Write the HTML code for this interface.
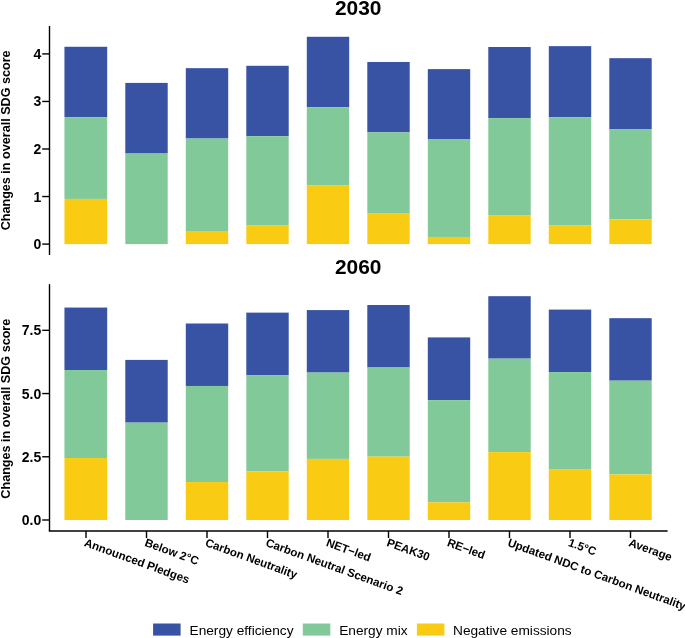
<!DOCTYPE html><html><head><meta charset="utf-8"><title>SDG chart</title><style>html,body{margin:0;padding:0;background:#fff}svg{display:block}text{font-family:"Liberation Sans", sans-serif;fill:#000}.b{font-weight:bold}</style></head><body>
<svg width="685" height="638" viewBox="0 0 685 638">
<rect width="685" height="638" fill="#fff"/>
<rect x="64.45" y="46.77" width="42.75" height="70.37" fill="#3852A4"/>
<rect x="64.45" y="117.14" width="42.75" height="81.79" fill="#82C99A"/>
<rect x="64.45" y="198.93" width="42.75" height="45.17" fill="#F9CC13"/>
<rect x="125.30" y="82.91" width="42.40" height="70.61" fill="#3852A4"/>
<rect x="125.30" y="153.52" width="42.40" height="90.58" fill="#82C99A"/>
<rect x="185.80" y="68.16" width="42.40" height="70.37" fill="#3852A4"/>
<rect x="185.80" y="138.54" width="42.40" height="92.48" fill="#82C99A"/>
<rect x="185.80" y="231.02" width="42.40" height="13.08" fill="#F9CC13"/>
<rect x="246.30" y="65.79" width="42.40" height="70.37" fill="#3852A4"/>
<rect x="246.30" y="136.16" width="42.40" height="88.92" fill="#82C99A"/>
<rect x="246.30" y="225.08" width="42.40" height="19.02" fill="#F9CC13"/>
<rect x="306.80" y="36.78" width="42.40" height="70.37" fill="#3852A4"/>
<rect x="306.80" y="107.16" width="42.40" height="77.98" fill="#82C99A"/>
<rect x="306.80" y="185.14" width="42.40" height="58.96" fill="#F9CC13"/>
<rect x="367.30" y="61.98" width="42.40" height="70.37" fill="#3852A4"/>
<rect x="367.30" y="132.36" width="42.40" height="81.31" fill="#82C99A"/>
<rect x="367.30" y="213.67" width="42.40" height="30.43" fill="#F9CC13"/>
<rect x="427.80" y="69.12" width="42.40" height="70.37" fill="#3852A4"/>
<rect x="427.80" y="139.49" width="42.40" height="97.48" fill="#82C99A"/>
<rect x="427.80" y="236.97" width="42.40" height="7.13" fill="#F9CC13"/>
<rect x="488.30" y="47.01" width="42.40" height="71.09" fill="#3852A4"/>
<rect x="488.30" y="118.09" width="42.40" height="97.00" fill="#82C99A"/>
<rect x="488.30" y="215.09" width="42.40" height="29.01" fill="#F9CC13"/>
<rect x="548.80" y="46.15" width="42.40" height="70.99" fill="#3852A4"/>
<rect x="548.80" y="117.14" width="42.40" height="108.41" fill="#82C99A"/>
<rect x="548.80" y="225.56" width="42.40" height="18.54" fill="#F9CC13"/>
<rect x="609.30" y="58.18" width="42.40" height="70.85" fill="#3852A4"/>
<rect x="609.30" y="129.03" width="42.40" height="90.34" fill="#82C99A"/>
<rect x="609.30" y="219.37" width="42.40" height="24.73" fill="#F9CC13"/>
<rect x="64.45" y="307.56" width="42.75" height="62.47" fill="#3852A4"/>
<rect x="64.45" y="370.03" width="42.75" height="88.01" fill="#82C99A"/>
<rect x="64.45" y="458.04" width="42.75" height="61.96" fill="#F9CC13"/>
<rect x="125.30" y="359.91" width="42.40" height="62.72" fill="#3852A4"/>
<rect x="125.30" y="422.63" width="42.40" height="97.37" fill="#82C99A"/>
<rect x="185.80" y="323.50" width="42.40" height="62.47" fill="#3852A4"/>
<rect x="185.80" y="385.96" width="42.40" height="96.10" fill="#82C99A"/>
<rect x="185.80" y="482.06" width="42.40" height="37.94" fill="#F9CC13"/>
<rect x="246.30" y="312.62" width="42.40" height="62.47" fill="#3852A4"/>
<rect x="246.30" y="375.09" width="42.40" height="96.35" fill="#82C99A"/>
<rect x="246.30" y="471.44" width="42.40" height="48.56" fill="#F9CC13"/>
<rect x="306.80" y="310.09" width="42.40" height="62.47" fill="#3852A4"/>
<rect x="306.80" y="372.56" width="42.40" height="86.37" fill="#82C99A"/>
<rect x="306.80" y="458.92" width="42.40" height="61.08" fill="#F9CC13"/>
<rect x="367.30" y="305.03" width="42.40" height="62.47" fill="#3852A4"/>
<rect x="367.30" y="367.50" width="42.40" height="89.15" fill="#82C99A"/>
<rect x="367.30" y="456.65" width="42.40" height="63.35" fill="#F9CC13"/>
<rect x="427.80" y="337.41" width="42.40" height="62.72" fill="#3852A4"/>
<rect x="427.80" y="400.13" width="42.40" height="102.17" fill="#82C99A"/>
<rect x="427.80" y="502.30" width="42.40" height="17.70" fill="#F9CC13"/>
<rect x="488.30" y="296.18" width="42.40" height="62.47" fill="#3852A4"/>
<rect x="488.30" y="358.65" width="42.40" height="93.45" fill="#82C99A"/>
<rect x="488.30" y="452.10" width="42.40" height="67.90" fill="#F9CC13"/>
<rect x="548.80" y="309.59" width="42.40" height="62.47" fill="#3852A4"/>
<rect x="548.80" y="372.05" width="42.40" height="97.62" fill="#82C99A"/>
<rect x="548.80" y="469.67" width="42.40" height="50.33" fill="#F9CC13"/>
<rect x="609.30" y="318.19" width="42.40" height="62.47" fill="#3852A4"/>
<rect x="609.30" y="380.65" width="42.40" height="93.83" fill="#82C99A"/>
<rect x="609.30" y="474.48" width="42.40" height="45.52" fill="#F9CC13"/>
<g stroke="#000" stroke-width="1.4" fill="none">
<line x1="49.5" y1="26" x2="49.5" y2="255"/>
<line x1="49.5" y1="284.2" x2="49.5" y2="531.05"/>
<line x1="48.8" y1="531.05" x2="667.6" y2="531.05"/>
<line x1="42.2" y1="244.10" x2="49.5" y2="244.10"/>
<line x1="42.2" y1="196.55" x2="49.5" y2="196.55"/>
<line x1="42.2" y1="149.00" x2="49.5" y2="149.00"/>
<line x1="42.2" y1="101.45" x2="49.5" y2="101.45"/>
<line x1="42.2" y1="53.90" x2="49.5" y2="53.90"/>
<line x1="42.2" y1="520.00" x2="49.5" y2="520.00"/>
<line x1="42.2" y1="456.77" x2="49.5" y2="456.77"/>
<line x1="42.2" y1="393.55" x2="49.5" y2="393.55"/>
<line x1="42.2" y1="330.33" x2="49.5" y2="330.33"/>
<line x1="86.00" y1="531.05" x2="86.00" y2="538.05"/>
<line x1="146.50" y1="531.05" x2="146.50" y2="538.05"/>
<line x1="207.00" y1="531.05" x2="207.00" y2="538.05"/>
<line x1="267.50" y1="531.05" x2="267.50" y2="538.05"/>
<line x1="328.00" y1="531.05" x2="328.00" y2="538.05"/>
<line x1="388.50" y1="531.05" x2="388.50" y2="538.05"/>
<line x1="449.00" y1="531.05" x2="449.00" y2="538.05"/>
<line x1="509.50" y1="531.05" x2="509.50" y2="538.05"/>
<line x1="570.00" y1="531.05" x2="570.00" y2="538.05"/>
<line x1="630.50" y1="531.05" x2="630.50" y2="538.05"/>
</g>
<g class="b" font-size="14" text-anchor="end">
<text x="41.3" y="249.10">0</text>
<text x="41.3" y="201.55">1</text>
<text x="41.3" y="154.00">2</text>
<text x="41.3" y="106.45">3</text>
<text x="41.3" y="58.90">4</text>
<text x="41.3" y="525.00">0.0</text>
<text x="41.3" y="461.77">2.5</text>
<text x="41.3" y="398.55">5.0</text>
<text x="41.3" y="335.33">7.5</text>
</g>
<g class="b" font-size="12.6" text-anchor="middle">
<text transform="translate(10.1,140.4) rotate(-90)">Changes in overall SDG score</text>
<text transform="translate(10.1,408.7) rotate(-90)">Changes in overall SDG score</text>
</g>
<g class="b" font-size="20.9" text-anchor="middle">
<text x="358.2" y="15.2">2030</text>
<text x="358.2" y="273.9">2060</text>
</g>
<g class="b" font-size="11.55">
<text transform="translate(83.40,545.65) rotate(20)">Announced Pledges</text>
<text transform="translate(143.90,545.65) rotate(20)">Below 2°C</text>
<text transform="translate(204.40,545.65) rotate(20)">Carbon Neutrality</text>
<text transform="translate(264.90,545.65) rotate(20)">Carbon Neutral Scenario 2</text>
<text transform="translate(325.40,545.65) rotate(20)">NET−led</text>
<text transform="translate(385.90,545.65) rotate(20)">PEAK30</text>
<text transform="translate(446.40,545.65) rotate(20)">RE−led</text>
<text transform="translate(506.90,545.65) rotate(20)">Updated NDC to Carbon Neutrality</text>
<text transform="translate(567.40,545.65) rotate(20)">1.5°C</text>
<text transform="translate(627.90,545.65) rotate(20)">Average</text>
</g>
<rect x="153.1" y="623.5" width="27.5" height="12.1" fill="#3852A4"/>
<rect x="302.8" y="623.5" width="27.5" height="12.1" fill="#82C99A"/>
<rect x="416.9" y="623.5" width="27.5" height="12.1" fill="#F9CC13"/>
<g font-size="13.7">
<text x="189.5" y="634.6">Energy efficiency</text>
<text x="339.2" y="634.6">Energy mix</text>
<text x="453.0" y="634.6">Negative emissions</text>
</g>
</svg></body></html>
